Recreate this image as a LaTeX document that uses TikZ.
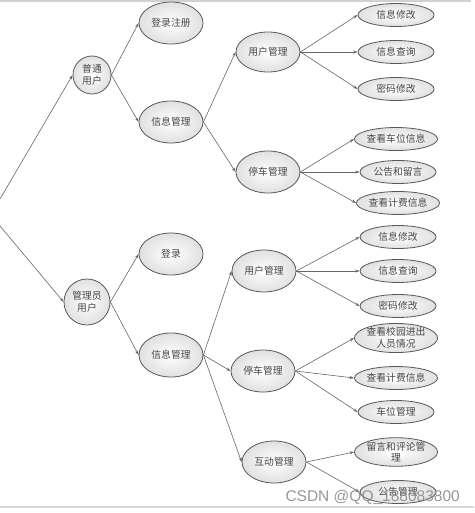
\documentclass[tikz,border=0pt]{standalone}
\usepackage{fontspec}
\newfontfamily\cjk{Noto Sans CJK SC}
\setsansfont{Liberation Sans}
\usetikzlibrary{shapes.geometric,arrows.meta}
\tikzset{
  base/.style={ellipse, draw=black!65, line width=0.8pt, inner color=white, outer color=black!12,
    inner sep=0pt, text=black!72, font=\cjk\fontsize{9.8}{12.5}\selectfont, align=center},
  big/.style={base, minimum width=64pt, minimum height=42pt},
  small/.style={base, minimum width=76pt, minimum height=23pt},
  circ/.style={base, circle},
  arr/.style={-{Stealth[length=4.5pt,width=3pt]}, draw=black!60, line width=0.6pt},
}
\begin{document}
\begin{tikzpicture}[x=1pt,y=-1pt]
\useasboundingbox (0,0) rectangle (474,513);
\fill[black!18] (0,0) rectangle (471,2);
\fill[black!15] (0,506) rectangle (474,508);

\coordinate (r1) at (0,199);
\coordinate (r2) at (0,226);

\node[circ, minimum size=38pt] (u1) at (92,75) {普通\\用户};
\node[big] (a1) at (171,23) {登录注册};
\node[big] (b1) at (171,122) {信息管理};
\node[big, minimum height=40pt] (c1) at (268,52) {用户管理};
\node[small] (c1a) at (396,15) {信息修改};
\node[small] (c1b) at (396,52) {信息查询};
\node[small] (c1c) at (396,89) {密码修改};
\node[big] (c2) at (268,172) {停车管理};
\node[small] (c2a) at (396,139) {查看车位信息};
\node[small] (c2b) at (398,172) {公告和留言};
\node[small] (c2c) at (398,203) {查看计费信息};

\node[circ, minimum size=46pt] (u2) at (87,302) {管理员\\用户};
\node[big] (a2) at (171,254) {登录};
\node[big, minimum height=44pt] (b2) at (171,355) {信息管理};
\node[big] (d1) at (264,271) {用户管理};
\node[small] (d1a) at (398,237) {信息修改};
\node[small] (d1b) at (398,271) {信息查询};
\node[small] (d1c) at (398,306) {密码修改};
\node[big] (d2) at (263,371) {停车管理};
\node[small, font=\cjk\fontsize{9.8}{11.5}\selectfont] (d2a) at (396,338) {查看校园进出\\人员情况};
\node[small] (d2b) at (396,378) {查看计费信息};
\node[small] (d2c) at (396,412) {车位管理};
\node[big] (d3) at (274,462) {互动管理};
\node[small, minimum height=25pt, font=\cjk\fontsize{9.8}{11.5}\selectfont] (d3a) at (396,452) {留言和评论管\\理};
\node[small] (d3b) at (398,492) {公告管理};

\draw[arr] (r1) -- (u1.west);
\draw[arr] (r2) -- (u2.west);
\draw[arr] (u1.east) -- (a1.west);
\draw[arr] (u1.east) -- (b1.west);
\draw[arr] (b1.east) -- (c1.west);
\draw[arr] (b1.east) -- (c2.west);
\foreach \c in {c1a,c1b,c1c} \draw[arr] (c1.east) -- (\c.west);
\foreach \c in {c2a,c2b,c2c} \draw[arr] (c2.east) -- (\c.west);
\draw[arr] (u2.east) -- (a2.west);
\draw[arr] (u2.east) -- (b2.west);
\draw[arr] (b2.east) -- (d1.west);
\draw[arr] (b2.east) -- (d2.west);
\draw[arr] (b2.east) -- (d3.west);
\foreach \c in {d1a,d1b,d1c} \draw[arr] (d1.east) -- (\c.west);
\foreach \c in {d2a,d2b,d2c} \draw[arr] (d2.east) -- (\c.west);
\foreach \c in {d3a,d3b} \draw[arr] (d3.east) -- (\c.west);

\node[font=\sffamily\fontsize{15.5}{16}\selectfont, text=black!45, opacity=0.9, anchor=east, inner sep=0pt] (wm) at (460,497) {CSDN @QQ\_188083800};
\end{tikzpicture}
\end{document}
